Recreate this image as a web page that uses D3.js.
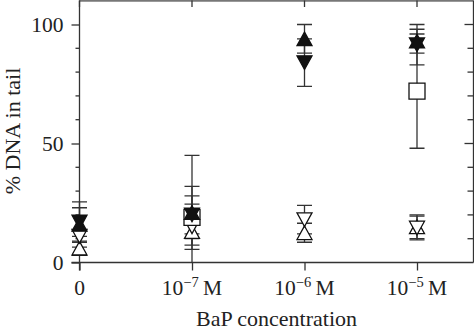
<!DOCTYPE html>
<html>
<head>
<meta charset="utf-8">
<script src="https://cdn.jsdelivr.net/npm/d3@7"></script>
<style>
  html, body { margin: 0; padding: 0; background: #fff; }
  svg { display: block; }
</style>
</head>
<body>
<svg id="chart" width="474" height="335"></svg>
<script>
// BaP concentration groups (exponent of the molar concentration; null = control)
const concentrations = ["0", "1e-7", "1e-6", "1e-5"];
const exponents = [null, -7, -6, -5];
const yTicks = [0, 50, 100];

// % DNA in tail, mean and error per group, one pair of arrays per marker series
const filledUpMean   = [16, 21, 94, 93];
const filledUpErr    = [9.5, 11, 6, 5];
const filledDownMean = [17, 20, 84, 91.5];
const filledDownErr  = [6, 8, 10, 8.5];
const squareMean     = [null, 19, null, 72];
const squareErr      = [null, 26, null, 24];
const openUpMean     = [6, 13, 12.5, 15];
const openUpErr      = [3, 5.7, 4, 5];
const openDownMean   = [11, 15, 18, 14.5];
const openDownErr    = [2.5, 9.5, 6, 5];

const series = [
  { shape: "up",     fill: "#fff",  mean: openUpMean,     err: openUpErr },
  { shape: "down",   fill: "#fff",  mean: openDownMean,   err: openDownErr },
  { shape: "square", fill: "#fff",  mean: squareMean,     err: squareErr },
  { shape: "down",   fill: "#111",  mean: filledDownMean, err: filledDownErr },
  { shape: "up",     fill: "#111",  mean: filledUpMean,   err: filledUpErr }
];

const svg = d3.select("#chart");
const plotLeft = 79.5, plotRight = 473.5, plotTop = 0.5, plotBottom = 262.5;
const ink = "#333";
const serif = "'Liberation Serif', 'DejaVu Serif', 'Times New Roman', serif";
const fontSize = 21.5;

const x = d3.scalePoint().domain(concentrations).range([plotLeft, 417]);
const y = d3.scaleLinear().domain([0, 100]).range([plotBottom, 24.5]);

// Clip only below the x axis, so markers on the first group can overhang the left axis
svg.append("defs").append("clipPath").attr("id", "plotClip")
  .append("rect").attr("x", 0).attr("y", 0).attr("width", 474).attr("height", plotBottom);

// Frame: top and right borders
svg.append("line").attr("x1", plotLeft).attr("x2", plotRight).attr("y1", plotTop).attr("y2", plotTop)
  .attr("stroke", "#777").attr("stroke-width", 2.5);
svg.append("line").attr("x1", plotRight).attr("x2", plotRight).attr("y1", plotTop).attr("y2", plotBottom)
  .attr("stroke", ink).attr("stroke-width", 1.3);

// Left axis: labelled major ticks plus unlabelled minor ticks every 10 %
const minor = d3.range(0, 111, 10);
const gy = svg.append("g").attr("transform", `translate(${plotLeft},0)`)
  .call(d3.axisLeft(y).tickValues(yTicks).tickSize(8).tickPadding(8).tickFormat(d3.format("d")));
gy.attr("font-family", serif).attr("font-size", fontSize);
gy.select(".domain").attr("d", `M0,${plotTop}V${plotBottom + 8}`).attr("stroke", ink).attr("stroke-width", 1.3);
gy.selectAll(".tick line").attr("stroke", ink).attr("stroke-width", 1.3);
gy.selectAll(".tick text").attr("fill", "#222");
gy.selectAll(".minor").data(minor.filter(v => v % 50 !== 0 && y(v) > 1)).enter()
  .append("line").attr("class", "minor")
  .attr("x1", -4).attr("x2", 0).attr("y1", d => y(d)).attr("y2", d => y(d))
  .attr("stroke", ink).attr("stroke-width", 1.3);

// Right axis: inward ticks every 10 %
svg.append("g").selectAll("line").data(minor.filter(v => v > 0 && y(v) > 1)).enter()
  .append("line")
  .attr("x1", d => plotRight - (d % 50 === 0 ? 9 : 6)).attr("x2", plotRight)
  .attr("y1", d => y(d)).attr("y2", d => y(d))
  .attr("stroke", ink).attr("stroke-width", 1.3);

// Bottom axis
const gx = svg.append("g").attr("transform", `translate(0,${plotBottom})`)
  .call(d3.axisBottom(x).tickSize(8).tickFormat(""));
gx.select(".domain").attr("d", `M${plotLeft - 8},0H${plotRight}`).attr("stroke", ink).attr("stroke-width", 1.3);
gx.selectAll(".tick line").attr("stroke", ink).attr("stroke-width", 1.3);

// Top axis: inward category ticks
svg.append("g").selectAll("line").data(concentrations).enter().append("line")
  .attr("x1", d => x(d)).attr("x2", d => x(d)).attr("y1", plotTop).attr("y2", 7)
  .attr("stroke", ink).attr("stroke-width", 1.3);

// Category labels, with superscript exponents
const labels = svg.append("g").attr("font-family", serif).attr("fill", "#222")
  .selectAll("text").data(concentrations).enter().append("text")
  .attr("x", d => x(d)).attr("y", 295).attr("text-anchor", "middle").attr("font-size", fontSize);
labels.each(function(d, i) {
  const t = d3.select(this);
  const e = exponents[i];
  if (e === null) { t.text("0"); return; }
  t.append("tspan").text("10");
  t.append("tspan").attr("dy", -8).attr("font-size", 14.5).text("\u2212" + Math.abs(e));
  t.append("tspan").attr("dy", 8).text("\u2009M");
});

// Axis titles
svg.append("text").attr("x", (plotLeft + plotRight) / 2).attr("y", 326).attr("text-anchor", "middle")
  .attr("font-family", serif).attr("fill", "#222").attr("font-size", 22).text("BaP concentration");
svg.append("text").attr("transform", `translate(20,131) rotate(-90)`).attr("text-anchor", "middle")
  .attr("font-family", serif).attr("fill", "#222").attr("font-size", 22).text("% DNA in tail");

// Marker shapes, centred on their bounding box
function shapePath(shape) {
  const w = 7.5, h = 6.8;
  if (shape === "up") return `M0,${-h}L${w},${h}L${-w},${h}Z`;
  if (shape === "down") return `M0,${h}L${w},${-h}L${-w},${-h}Z`;
  return "M-8,-8H8V8H-8Z";
}

const plot = svg.append("g").attr("clip-path", "url(#plotClip)");
const points = s => concentrations.map((c, i) => ({ c, m: s.mean[i], e: s.err[i] })).filter(p => p.m !== null);

// Error bars first, all series
series.forEach(s => {
  const g = plot.append("g").attr("stroke", ink).attr("stroke-width", 1.3).attr("fill", "none");
  points(s).forEach(p => {
    const cx = x(p.c);
    g.append("line").attr("x1", cx).attr("x2", cx).attr("y1", y(p.m + p.e)).attr("y2", y(p.m - p.e));
    [p.m + p.e, p.m - p.e].forEach(v => {
      g.append("line").attr("x1", cx - 7.5).attr("x2", cx + 7.5).attr("y1", y(v)).attr("y2", y(v));
    });
  });
});

// Markers on top
series.forEach(s => {
  plot.append("g").selectAll("path").data(points(s)).enter().append("path")
    .attr("transform", p => `translate(${x(p.c)},${y(p.m)})`)
    .attr("d", shapePath(s.shape))
    .attr("fill", s.fill).attr("stroke", "#111").attr("stroke-width", 1.3);
});
</script>
</body>
</html>
